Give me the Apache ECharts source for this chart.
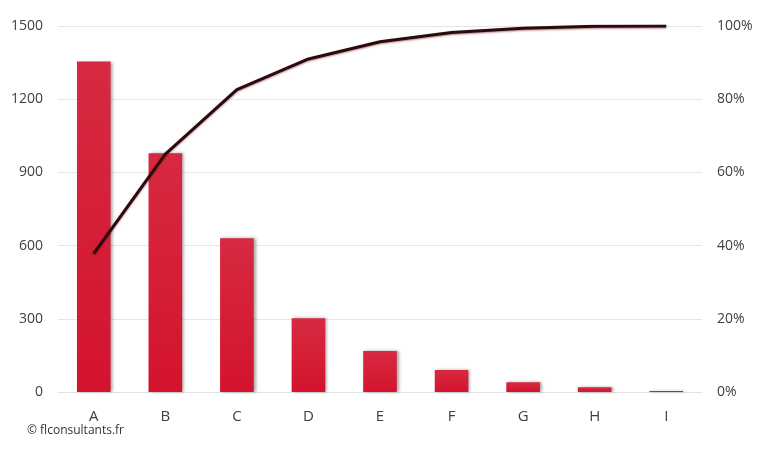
<!DOCTYPE html>
<html>
<head>
<meta charset="utf-8">
<script src="https://cdn.jsdelivr.net/npm/echarts@6/dist/echarts.min.js"></script>
<style>
html,body{margin:0;padding:0;background:#fff;}
#c{width:768px;height:452px;}
</style>
</head>
<body>
<div id="c"></div>
<script>
const categories = ['A','B','C','D','E','F','G','H','I'];
const values = [1354, 978, 630, 302, 168, 90, 40, 19, 4];
const cumulativePct = [37.8, 65.0, 82.6, 91.0, 95.7, 98.2, 99.4, 99.9, 100];
const leftTicks = [0, 300, 600, 900, 1200, 1500];
const rightTicks = [0, 20, 40, 60, 80, 100];

const font = '"Open Sans", "Noto Sans", sans-serif';
const chart = echarts.init(document.getElementById('c'), null, {renderer:'canvas'});
chart.setOption({
  animation: false,
  backgroundColor: '#ffffff',
  grid: {left: 58, right: 66, top: 26, bottom: 60},
  xAxis: {
    type: 'category',
    data: categories,
    axisLine: {show: true, lineStyle: {color: '#e3e3e3', width: 1}},
    axisTick: {show: false},
    axisLabel: {color: '#404040', fontSize: 15, fontFamily: font, margin: 17}
  },
  yAxis: [{
    type: 'value',
    min: leftTicks[0], max: leftTicks[leftTicks.length-1], interval: 300,
    axisLine: {show: false}, axisTick: {show: false},
    splitLine: {lineStyle: {color: '#e6e6e6', width: 1}},
    axisLabel: {color: '#404040', fontSize: 14, fontFamily: font, margin: 15,
      formatter: function (v) { return String(v); }}
  }, {
    type: 'value',
    min: rightTicks[0], max: rightTicks[rightTicks.length-1], interval: 20,
    axisLine: {show: false}, axisTick: {show: false},
    splitLine: {show: false},
    axisLabel: {color: '#404040', fontSize: 14, fontFamily: font, margin: 15, formatter: '{value}%'}
  }],
  series: [{
    type: 'bar',
    data: values,
    barWidth: '47%',
    itemStyle: {
      color: new echarts.graphic.LinearGradient(0, 0, 0, 1, [
        {offset: 0, color: '#d62a40'},
        {offset: 1, color: '#d4132e'}
      ]),
      shadowColor: 'rgba(0,0,0,0.35)', shadowBlur: 3, shadowOffsetX: 2, shadowOffsetY: 0
    }
  }, {
    type: 'line',
    yAxisIndex: 1,
    data: cumulativePct,
    symbol: 'none',
    lineStyle: {color: '#2b0a0e', width: 3, shadowColor: 'rgba(120,0,20,0.5)', shadowBlur: 2, shadowOffsetY: 1}
  }],
  graphic: [{
    type: 'text', left: 27, top: 425,
    style: {text: '© flconsultants.fr', fill: '#333', font: '12px ' + font}
  }]
});
</script>
</body>
</html>
